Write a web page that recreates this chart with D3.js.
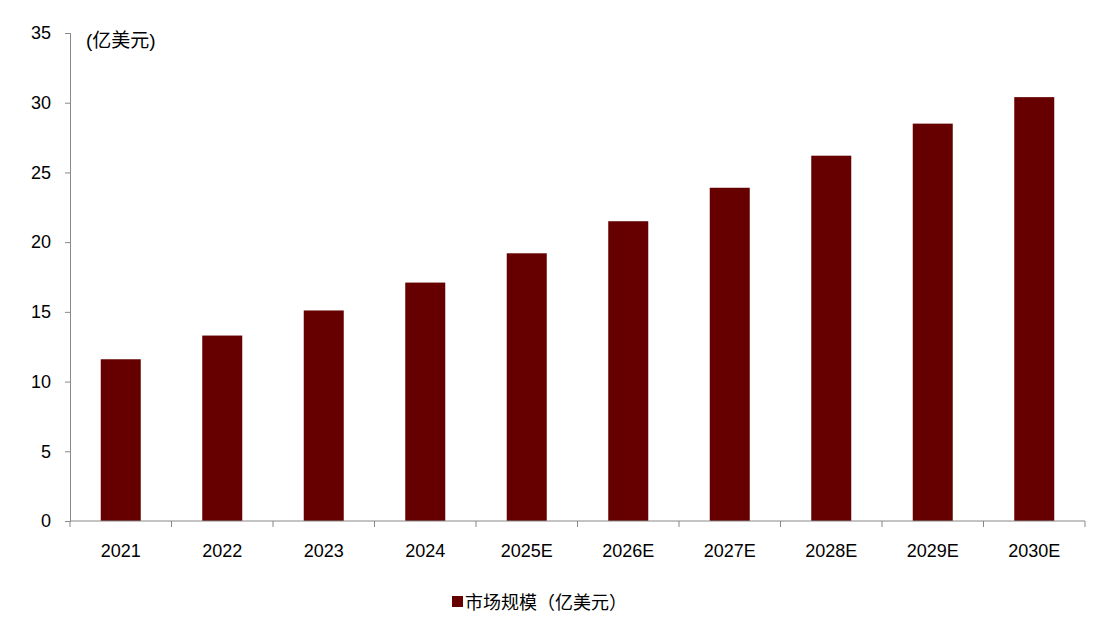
<!DOCTYPE html>
<html><head><meta charset="utf-8">
<script src="https://cdn.jsdelivr.net/npm/d3@7"></script>
<style>body{margin:0;background:#fff;}text{font-family:"Liberation Sans",Arial,"Noto Sans CJK SC",sans-serif;}</style>
</head><body><svg id="c" width="1095" height="624"></svg>
<script>
const categories=["2021","2022","2023","2024","2025E","2026E","2027E","2028E","2029E","2030E"];
const values=[11.6,13.3,15.1,17.1,19.2,21.5,23.9,26.2,28.5,30.4];
const yTicks=[0,5,10,15,20,25,30,35];
const seriesName="市场规模（亿美元）";
const unitLabel="(亿美元)";
const color="#660000";
const svg=d3.select("#c");
const m={l:70,r:1085,t:33,b:521};
const x=d3.scaleBand().domain(categories).range([m.l,m.r]).paddingInner(0.6).paddingOuter(0.3);
const xb=d3.scaleBand().domain(categories).range([m.l,m.r]);
const y=d3.scaleLinear().domain([0,35]).range([m.b,m.t]);
svg.selectAll("rect.bar").data(values).join("rect").attr("class","bar")
 .attr("x",(d,i)=>xb(categories[i])+xb.bandwidth()/2-20).attr("width",40)
 .attr("y",d=>y(d)).attr("height",d=>y(0)-y(d)).attr("fill",color);
const ya=svg.append("g").attr("transform",`translate(${m.l},0)`).call(d3.axisLeft(y).tickValues(yTicks).tickSize(5).tickPadding(14));
ya.select(".domain").attr("stroke","#888");
ya.selectAll("line").attr("stroke","#888");
ya.selectAll("text").attr("font-size",18).attr("fill","#000").style("font-family","Liberation Sans, Arial");
const xa=svg.append("g").attr("transform",`translate(0,${m.b})`);
xa.append("line").attr("x1",m.l).attr("x2",m.r).attr("stroke","#888");
const bounds=categories.map(c=>xb(c)).concat([m.r]);
xa.selectAll("line.t").data(bounds).join("line").attr("class","t").attr("x1",d=>d).attr("x2",d=>d).attr("y1",0).attr("y2",6).attr("stroke","#888");
xa.selectAll("text").data(categories).join("text").attr("x",c=>xb(c)+xb.bandwidth()/2).attr("y",36).attr("text-anchor","middle").attr("font-size",18).text(c=>c);
svg.append("text").attr("x",86).attr("y",47).attr("font-size",19).text(unitLabel);
svg.append("rect").attr("x",452).attr("y",596).attr("width",11).attr("height",11).attr("fill",color);
svg.append("text").attr("x",465).attr("y",609).attr("font-size",18).text(seriesName);
</script></body></html>
